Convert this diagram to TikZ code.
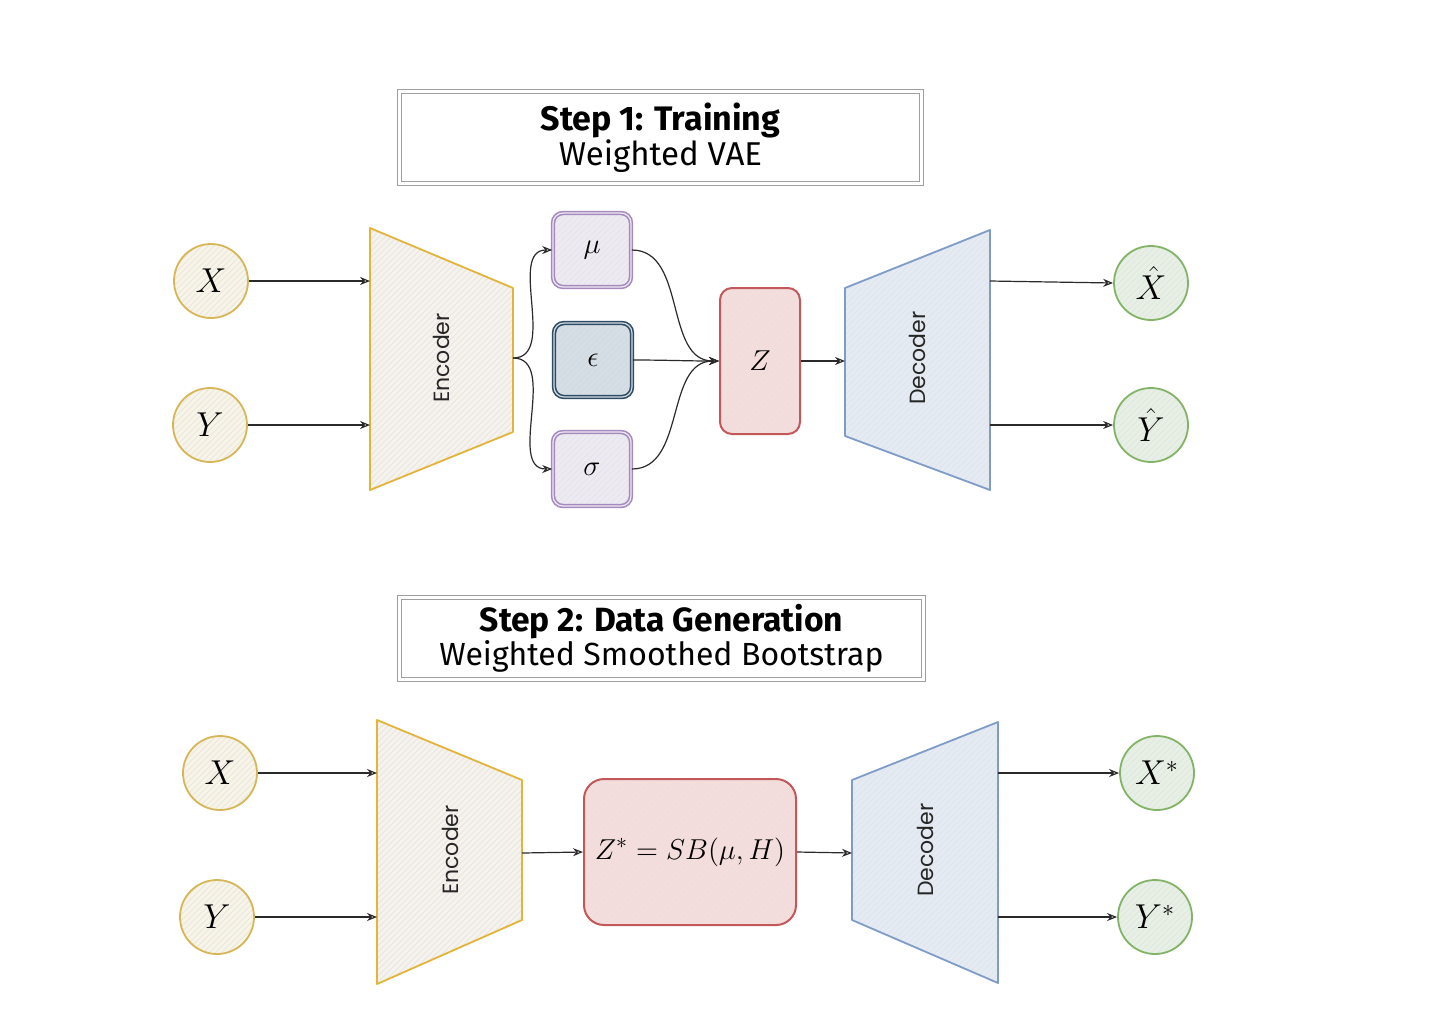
\documentclass[tikz,border=0pt]{standalone}
\usepackage{fontspec}
\setsansfont{Fira Sans}
\newfontfamily\titlefont{Fira Sans}
\newfontfamily\labfont{Poppins}
\usetikzlibrary{arrows.meta,patterns}
\definecolor{yelS}{HTML}{D6B656}
\definecolor{yelF}{HTML}{F8F4E6}
\definecolor{encS}{HTML}{E3B33A}
\definecolor{encF}{HTML}{F6F2EC}
\definecolor{decS}{HTML}{7F9CC8}
\definecolor{decF}{HTML}{E4EBF4}
\definecolor{purS}{HTML}{A68ABE}
\definecolor{purF}{HTML}{EEEAF3}
\definecolor{epsS}{HTML}{2F4B63}
\definecolor{epsF}{HTML}{D2DCE5}
\definecolor{redS}{HTML}{C2585A}
\definecolor{redF}{HTML}{F7DCDC}
\definecolor{grnS}{HTML}{82B366}
\definecolor{grnF}{HTML}{E6F0E4}
\definecolor{edgeC}{HTML}{2A2A2A}
\tikzset{
  hatch/.style={preaction={fill=#1}, pattern=north east lines, pattern color=#1!80!black!40},
  titlebox/.style={draw=gray!75, double, double distance=1.6pt, line width=0.55pt,
    align=center, inner sep=0pt},
  invar/.style={circle, draw=yelS, hatch=yelF, line width=0.9pt, minimum size=37pt,
    inner sep=0pt, font=\fontsize{17}{19}\selectfont},
  outvar/.style={circle, draw=grnS, hatch=grnF, line width=0.9pt, minimum size=37pt,
    inner sep=0pt, font=\fontsize{17}{19}\selectfont},
  parbox/.style={rectangle, rounded corners=5pt, draw=purS, hatch=purF, double=purF,
    line width=0.8pt, minimum width=39pt, minimum height=37pt, inner sep=0pt,
    font=\fontsize{15}{17}\selectfont},
  epsbox/.style={parbox, draw=epsS, hatch=epsF, double=epsF},
  zbox/.style={rectangle, rounded corners=6pt, draw=redS, hatch=redF,
    line width=1pt, inner sep=0pt, font=\fontsize{15}{17}\selectfont},
  encpath/.style={draw=encS, hatch=encF, line width=0.9pt, line join=round},
  decpath/.style={draw=decS, hatch=decF, line width=0.9pt, line join=round},
  rotlab/.style={rotate=90, font=\labfont\fontsize{11}{13}\selectfont, text=black!85},
  conn/.style={draw=edgeC, line width=0.6pt, -{Stealth[length=5pt,width=4pt,open]}},
  tbold/.style={},
}
\begin{document}
\begin{tikzpicture}[x=0.5pt,y=-0.5pt]
\useasboundingbox (0,0) rectangle (1440,1024);

% ---------- Step 1 ----------
\node[titlebox, minimum width=261pt, minimum height=46pt] (t1) at (660.5,137.5)
  {{\titlefont\bfseries\fontsize{17}{19}\selectfont Step 1: Training}\\[0pt]
   {\titlefont\fontsize{16.5}{18}\selectfont Weighted VAE}};

\node[invar] (x1) at (211,281) {$X$};
\node[invar] (y1) at (210,425) {$Y$};

% encoder 1
\coordinate (e1tl) at (370,228); \coordinate (e1bl) at (370,490);
\coordinate (e1tr) at (513,288); \coordinate (e1br) at (513,432);
\path[encpath] (e1tl) -- (e1tr) -- (e1br) -- (e1bl) -- cycle;
\node[rotlab] (enc1) at (441,358) {Encoder};
\coordinate (e1x) at (370,281);
\coordinate (e1y) at (370,425);
\coordinate (e1o) at (513,358);

\node[parbox] (mu) at (592,250) {$\mu$};
\node[epsbox] (eps) at (593,360) {$\epsilon$};
\node[parbox] (sig) at (592,469) {$\sigma$};

\node[zbox, minimum width=40pt, minimum height=73pt] (z) at (760,361) {$Z$};

% decoder 1
\coordinate (d1tl) at (845,288); \coordinate (d1bl) at (845,436);
\coordinate (d1tr) at (990,230); \coordinate (d1br) at (990,490);
\path[decpath] (d1tl) -- (d1tr) -- (d1br) -- (d1bl) -- cycle;
\node[rotlab] (dec1) at (917,358) {Decoder};
\coordinate (d1i) at (845,361);
\coordinate (d1x) at (990,281);
\coordinate (d1y) at (990,425);

\node[outvar] (xh) at (1151,283) {$\hat{X}$};
\node[outvar] (yh) at (1151,425) {$\hat{Y}$};

\draw[conn] (x1) -- (e1x);
\draw[conn] (y1) -- (e1y);
\draw[conn] (e1o) to[out=0,in=180] (mu.west);
\draw[conn] (e1o) to[out=0,in=180] (sig.west);
\draw[conn] (mu.east) to[out=0,in=180] (z.west);
\draw[conn] (eps.east) to[out=0,in=180] (z.west);
\draw[conn] (sig.east) to[out=0,in=180] (z.west);
\draw[conn] (z.east) -- (d1i);
\draw[conn] (d1x) -- (xh.west);
\draw[conn] (d1y) -- (yh.west);

% ---------- Step 2 ----------
\node[titlebox, minimum width=262pt, minimum height=41pt] (t2) at (661.5,638.5)
  {{\titlefont\bfseries\fontsize{16.8}{18.5}\selectfont Step 2: Data Generation}\\[0pt]
   {\titlefont\fontsize{16}{18}\selectfont Weighted Smoothed Bootstrap}};

\node[invar] (x2) at (220,773) {$X$};
\node[invar] (y2) at (217,917) {$Y$};

\coordinate (e2tl) at (377,720); \coordinate (e2bl) at (377,984);
\coordinate (e2tr) at (522,780); \coordinate (e2br) at (522,920);
\path[encpath] (e2tl) -- (e2tr) -- (e2br) -- (e2bl) -- cycle;
\node[rotlab] (enc2) at (450,850) {Encoder};
\coordinate (e2x) at (377,773);
\coordinate (e2y) at (377,917);
\coordinate (e2o) at (522,853);

\node[zbox, rounded corners=10pt, minimum width=106pt, minimum height=73pt] (zs) at (690,852)
  {$Z^{*} = SB(\mu, H)$};

\coordinate (d2tl) at (852,780); \coordinate (d2bl) at (852,920);
\coordinate (d2tr) at (998,722); \coordinate (d2br) at (998,983);
\path[decpath] (d2tl) -- (d2tr) -- (d2br) -- (d2bl) -- cycle;
\node[rotlab] (dec2) at (925,850) {Decoder};
\coordinate (d2i) at (852,853);
\coordinate (d2x) at (998,773);
\coordinate (d2y) at (998,917);

\node[outvar] (xs) at (1157,773) {$X^{*}$};
\node[outvar] (ys) at (1155,917) {$Y^{*}$};

\draw[conn] (x2) -- (e2x);
\draw[conn] (y2) -- (e2y);
\draw[conn] (e2o) -- (zs.west);
\draw[conn] (zs.east) -- (d2i);
\draw[conn] (d2x) -- (xs.west);
\draw[conn] (d2y) -- (ys.west);
\end{tikzpicture}
\end{document}
